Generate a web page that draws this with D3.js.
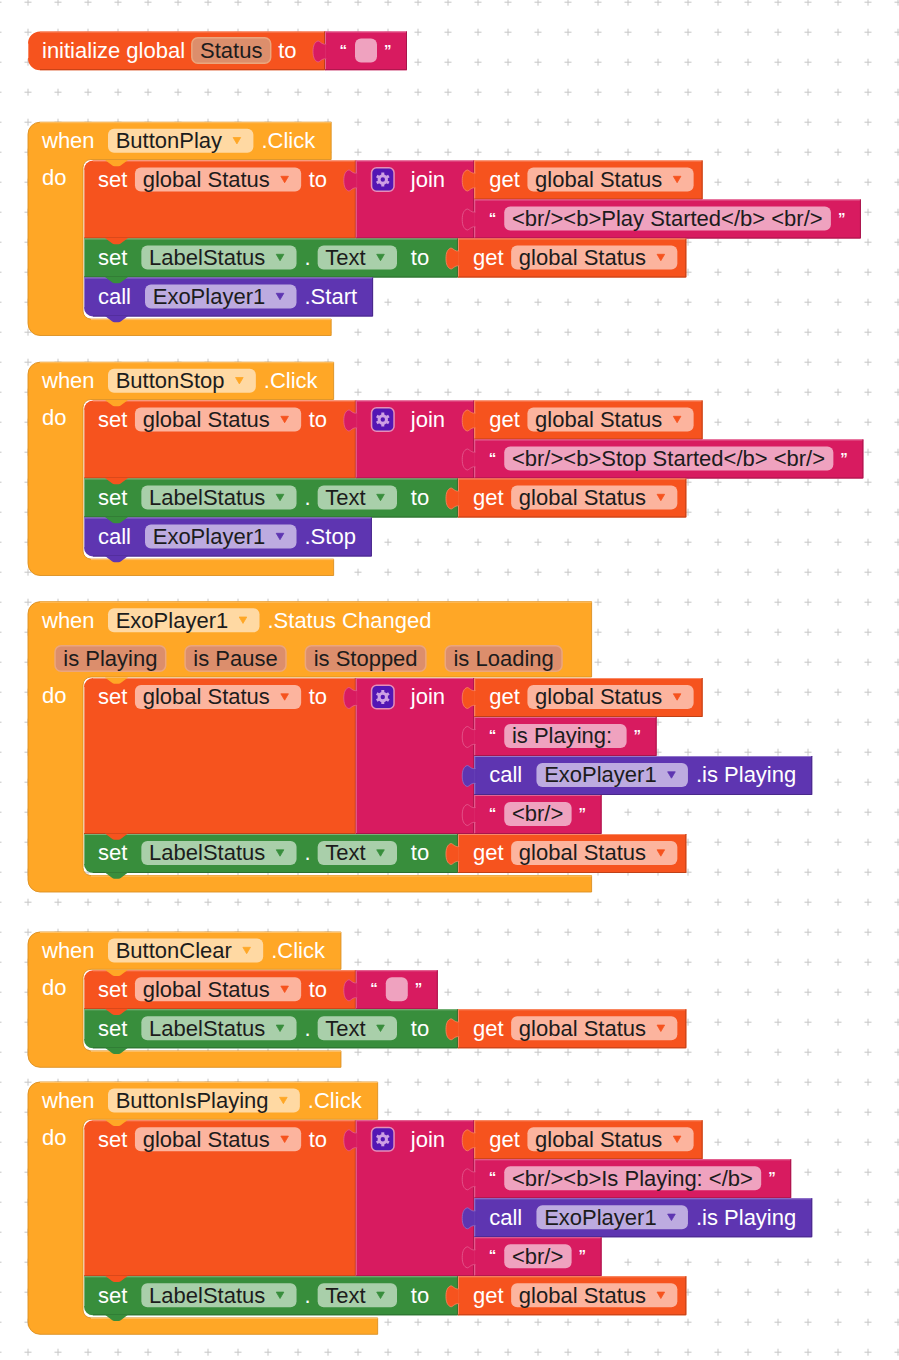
<!DOCTYPE html>
<html><head><meta charset="utf-8">
<style>html,body{margin:0;padding:0;background:#fff}svg{display:block}
text{font-family:"Liberation Sans",Arial,sans-serif;font-size:22px;white-space:pre}</style>
<script src="https://cdn.jsdelivr.net/npm/d3@7/dist/d3.min.js"></script>
</head><body>
<script>
// ---- content ----
const globalName = "Status";
const getLabel = "global Status";
const labelComponent = "LabelStatus";
const labelProperty = "Text";
const playerComponent = "ExoPlayer1";
const isPlayingMethod = ".is Playing";
const hatComponents = ["ButtonPlay","ButtonStop","ExoPlayer1","ButtonClear","ButtonIsPlaying"];
const hatEvents = [".Click",".Click",".Status Changed",".Click",".Click"];
const eventArgs = [[],[],["is Playing","is Pause","is Stopped","is Loading"],[],[]];
// "#get" = get global Status, "#call" = call ExoPlayer1.is Playing, everything else = text literal
const statusValues = [
  ["#get","<br/><b>Play Started</b> <br/>"],
  ["#get","<br/><b>Stop Started</b> <br/>"],
  ["#get","is Playing: ","#call","<br/>"],
  [""],
  ["#get","<br/><b>Is Playing: </b>","#call","<br/>"]
];
const trailingCalls = [".Start",".Stop",null,null,null];

// ---- style & layout constants ----
const C = {
  hat:"#FFA726", hatPill:"#FFD9A3", set:"#F6531E", setPill:"#FCB49E", str:"#D81B60", strPill:"#EFA2BF",
  green:"#388E3C", greenPill:"#A9CFAA", purple:"#5E35B1", purplePill:"#BDABE0", arg:"#DC8E6C", argEdge:"#EBA67E",
  ink:"#1c1c1c", grid:"#c6c6c6"
};
const WIDTH=899, HEIGHT=1360, ROW=39, LEFT=28, STACK=84;
const rowY = d3.scaleLinear().domain([0,1]).range([0,ROW]);
const gridX = d3.scaleLinear().domain([0,1]).range([-2,28]);
const gridY = d3.scaleLinear().domain([0,1]).range([2.2,32.2]);
const blockGaps = [52,26.7,26.2,40,14.7];
const INIT_TOP = 31.5;

const ctx = document.createElement("canvas").getContext("2d");
ctx.font = '22px "Liberation Sans"';
const W = s => ctx.measureText(s).width;

const marks = [];
const mix = (c,t,k) => d3.interpolateRgb(c,t)(k);

function text(x,y,s,fill="#fff"){ marks.push({k:"text",x,y,s,fill}); return x+W(s); }
function label(x,top,s){ return text(x,top+26.4,s); }
function drop(x,top,s,col,pill){
  const w=W(s)+39;
  marks.push({k:"rect",x,y:top+7,w,h:24,r:6,fill:pill});
  text(x+7.7,top+26.4,s,C.ink);
  marks.push({k:"tri",x:x+w-16.5,y:top+19,fill:col});
  return x+w;
}
function litPill(x,top,s,offY,offT){
  const w=W(s)+18;
  marks.push({k:"rect",x:x+.75,y:top+offY+.75,w:w-1.5,h:25.5,r:6,fill:C.arg,stroke:C.argEdge,sw:1.5});
  text(x+9,top+offT,s,C.ink);
  return x+w;
}
function block(x,y,h,color,o={}){ const m=Object.assign({k:"block",x,y,h,w:0,color},o); marks.push(m); return m; }
function tab(x,top,color){ marks.push({k:"tab",x,y:top,color}); }

function strBlock(x,top,s){
  const b=block(x,top,ROW,C.str); tab(x,top,C.str);
  marks.push({k:"quote",x:x+14.5,y:top+23,s:"\u201C"});
  let pw=s===""?22:W(s)+16;
  marks.push({k:"rect",x:x+30,y:top+7,w:pw,h:24,r:6,fill:C.strPill});
  if(s!=="") text(x+37.7,top+26.4,s,C.ink);
  marks.push({k:"quote",x:x+30+pw+7,y:top+23,s:"\u201D"});
  b.w=30+pw+30; return x+b.w;
}
function getBlock(x,top){
  const b=block(x,top,ROW,C.set); tab(x,top,C.set);
  let t=label(x+15,top,"get");
  t=drop(t+7.6,top,getLabel,C.set,C.setPill);
  b.w=t+9-x; return x+b.w;
}
function callValue(x,top){
  const b=block(x,top,ROW,C.purple); tab(x,top,C.purple);
  let t=label(x+15,top,"call");
  t=drop(t+14.2,top,playerComponent,C.purple,C.purplePill);
  t=label(t+8,top,isPlayingMethod);
  b.w=t+16-x; return x+b.w;
}
function gear(x,top){
  marks.push({k:"rect",x:x+.75,y:top+7.25,w:22.5,h:23.5,r:5,fill:"#5316B4",stroke:"#E58FB8",sw:1.5});
  marks.push({k:"gear",x:x+12,y:top+19});
}
function joinBlock(x,top,items){
  const b=block(x,top,ROW*items.length,C.str); tab(x,top,C.str);
  gear(x+15,top);
  const jx=label(x+55,top,"join");
  const cx=jx+29.2; b.w=cx-x;
  items.forEach((it,i)=>value(cx,top+rowY(i),it));
  return cx;
}
function value(x,top,it){
  if(it==="#get") return getBlock(x,top);
  if(it==="#call") return callValue(x,top);
  return strBlock(x,top,it);
}

function setGlobal(top,items){
  const h=ROW*items.length;
  const b=block(STACK,top,h,C.set,{tl:true});
  let t=label(STACK+14,top,"set");
  t=drop(t+7.6,top,"global Status",C.set,C.setPill);
  t=label(t+7.6,top,"to");
  const e=t+28.7; b.w=e-STACK;
  if(items.length>1) joinBlock(e,top,items); else value(e,top,items[0]);
  return {y:top+h,color:C.set,block:b};
}
function setLabel(top){
  const b=block(STACK,top,ROW,C.green);
  let t=label(STACK+14,top,"set");
  t=drop(t+14,top,labelComponent,C.green,C.greenPill);
  t=label(t+8,top,".");
  t=drop(t+7,top,labelProperty,C.green,C.greenPill);
  t=label(t+13.8,top,"to");
  const e=t+28.8; b.w=e-STACK;
  getBlock(e,top);
  return {y:top+ROW,color:C.green,block:b};
}
function callStmt(top,name){
  const b=block(STACK,top,ROW,C.purple);
  let t=label(STACK+14,top,"call");
  t=drop(t+14,top,playerComponent,C.purple,C.purplePill);
  t=label(t+8,top,name);
  b.w=t+16-STACK;
  return {y:top+ROW,color:C.purple,block:b};
}

function bump(x,y,color){ marks.push({k:"bump",x,y,color}); }

function drawHat(top,i){
  const args=eventArgs[i];
  const hat={k:"hat",x:LEFT,y:top,color:C.hat}; marks.push(hat);
  let t=label(42,top-.5,"when");
  t=drop(t+13.4,top-.5,hatComponents[i],C.hat,C.hatPill);
  t=label(t+8,top-.5,hatEvents[i]);
  hat.w=t+16-LEFT;
  let stackTop=top+38.3;
  if(args.length){
    let ax=54.3, last=0;
    args.forEach(a=>{ last=litPill(ax,stackTop,a,5,25.5); ax=last+17.9; });
    hat.w=Math.max(hat.w,last+28.8-LEFT);
    stackTop+=38;
  }
  hat.innerTop=stackTop-1;
  text(42,stackTop+24.5,"do");
  let y=stackTop; const st=[];
  st.push(setGlobal(y,statusValues[i])); y=st[st.length-1].y;
  st.push(setLabel(y)); y=st[st.length-1].y;
  if(trailingCalls[i]){ st.push(callStmt(y,trailingCalls[i])); y=st[st.length-1].y; }
  st[st.length-1].block.bl=true;
  hat.stackBottom=y+2.6;
  hat.bottom=y+19;
  marks.push({k:"bump",x:STACK,y:stackTop,color:C.hat});
  st.forEach(s=>bump(STACK,s.y,s.color));
  return hat.bottom;
}

// ---- build ----
(function(){
  const b=block(LEFT,INIT_TOP,38.7,C.set,{tl:true,bl:true,r:12});
  let t=text(42,INIT_TOP+26,"initialize global");
  t=litPill(t+6,INIT_TOP,globalName,5.5,26);
  t=text(t+6.7,INIT_TOP+26,"to");
  const e=t+28.5; b.w=e-LEFT;
  const sb=marks.length;
  strBlock(e,INIT_TOP,"");
  marks[sb].h=38.7;
  let y=INIT_TOP+38.7;
  hatComponents.forEach((_,i)=>{ y=drawHat(y+blockGaps[i],i); });
})();

// ---- draw ----
const svg=d3.select("body").append("svg").attr("width",WIDTH).attr("height",HEIGHT);

const gx=d3.range(0,32), gy=d3.range(0,46);
const plus=svg.append("g").attr("stroke",C.grid).attr("stroke-width",1).attr("fill","none");
plus.selectAll("path").data(d3.cross(gx,gy)).join("path")
  .attr("d",d=>{const x=gridX(d[0]),y=gridY(d[1]);return `M${x-3.5},${y}H${x+3.5}M${x},${y-3.5}V${y+3.5}`;});

const layer=svg.append("g");
layer.selectAll("g").data(marks).join("g").each(function(m){
  const g=d3.select(this);
  if(m.k==="text"){
    g.append("text").attr("x",m.x).attr("y",m.y).attr("fill",m.fill).text(m.s);
  } else if(m.k==="quote"){
    g.append("text").attr("x",m.x).attr("y",m.y).attr("fill","#fff")
     .style("font-weight","700").style("font-size","15px").text(m.s);
  } else if(m.k==="rect"){
    g.append("rect").attr("x",m.x).attr("y",m.y).attr("width",m.w).attr("height",m.h).attr("rx",m.r)
     .attr("fill",m.fill).attr("stroke",m.stroke||null).attr("stroke-width",m.sw||null);
  } else if(m.k==="tri"){
    g.append("path").attr("d",`M${m.x-3.8},${m.y-3.2}H${m.x+3.8}L${m.x},${m.y+3.2}Z`)
     .attr("fill",m.fill).attr("stroke",m.fill).attr("stroke-width",.8).attr("stroke-linejoin","round");
  } else if(m.k==="gear"){
    g.append("circle").attr("cx",m.x).attr("cy",m.y).attr("r",3.7).attr("fill","none").attr("stroke","#CDA0E4").attr("stroke-width",3);
    g.selectAll("line").data(d3.range(6)).join("line")
      .attr("x1",a=>m.x+Math.cos(a*Math.PI/3+Math.PI/6)*4.5).attr("y1",a=>m.y+Math.sin(a*Math.PI/3+Math.PI/6)*4.5)
      .attr("x2",a=>m.x+Math.cos(a*Math.PI/3+Math.PI/6)*7).attr("y2",a=>m.y+Math.sin(a*Math.PI/3+Math.PI/6)*7)
      .attr("stroke","#CDA0E4").attr("stroke-width",3);
  } else if(m.k==="block"){
    const r=m.r||9, tl=m.tl?r:0, bl=m.bl?r:0, x=m.x,y=m.y,w=m.w,h=m.h;
    const p=d3.path();
    p.moveTo(x+tl,y); p.lineTo(x+w,y); p.lineTo(x+w,y+h); p.lineTo(x+bl,y+h);
    if(bl) p.arcTo(x,y+h,x,y+h-bl,bl); p.lineTo(x,y+tl); if(tl) p.arcTo(x,y,x+tl,y,tl); p.closePath();
    g.append("path").attr("d",p.toString()).attr("fill",m.color);
    const lite=mix(m.color,"#fff",.32), dark=mix(m.color,"#000",.22);
    g.append("path").attr("d",`M${x+tl},${y+.5}H${x+w}`).attr("stroke",lite).attr("fill","none");
    g.append("path").attr("d",`M${x+.5},${y+tl}V${y+h-bl}`).attr("stroke",lite).attr("fill","none");
    g.append("path").attr("d",`M${x+w-.5},${y}V${y+h-.5}H${x+bl}`).attr("stroke",dark).attr("fill","none");
  } else if(m.k==="tab"){
    const x=m.x,y=m.y+.5;
    g.append("path").attr("d",`M${x+1},${y+12}C${x-3},${y+13} ${x-5},${y+9} ${x-7},${y+9}C${x-10.5},${y+10} ${x-12},${y+14} ${x-12},${y+19.5}C${x-12},${y+25} ${x-10.5},${y+29} ${x-7},${y+30}C${x-5},${y+30} ${x-3},${y+26} ${x+1},${y+27}Z`)
     .attr("fill",m.color).attr("stroke",mix(m.color,"#fff",.3)).attr("stroke-width",.8);
    g.append("rect").attr("x",x+.5).attr("y",y+12.4).attr("width",1.5).attr("height",14.2).attr("fill",m.color);
  } else if(m.k==="bump"){
    const x=m.x+21,y=m.y;
    g.append("path").attr("d",`M${x},${y-.5}L${x+7},${y+4.8}Q${x+8},${y+5.8} ${x+9.5},${y+5.8}H${x+13.5}Q${x+15},${y+5.8} ${x+16},${y+4.8}L${x+23},${y-.5}Z`)
     .attr("fill",m.color);
  } else if(m.k==="hat"){
    const x=m.x,y=m.y,r=12,ir=8,xr=x+m.w,sx=STACK-1;
    const p=d3.path();
    p.moveTo(x+r,y); p.lineTo(xr,y); p.lineTo(xr,m.innerTop);
    p.lineTo(sx+ir,m.innerTop); p.arcTo(sx,m.innerTop,sx,m.innerTop+ir,ir);
    p.lineTo(sx,m.stackBottom-ir); p.arcTo(sx,m.stackBottom,sx+ir,m.stackBottom,ir);
    p.lineTo(xr,m.stackBottom); p.lineTo(xr,m.bottom);
    p.lineTo(x+r,m.bottom); p.arcTo(x,m.bottom,x,m.bottom-r,r);
    p.lineTo(x,y+r); p.arcTo(x,y,x+r,y,r); p.closePath();
    g.append("path").attr("d",p.toString()).attr("fill",m.color).attr("stroke",mix(m.color,"#000",.14)).attr("stroke-width",.9);
    g.append("path").attr("d",`M${x+r},${y+.5}H${xr}`).attr("stroke",mix(m.color,"#fff",.3));
    g.append("path").attr("d",`M${sx+ir},${m.stackBottom+.5}H${xr}`).attr("stroke",mix(m.color,"#fff",.3));
  }
});
</script>
</body></html>
